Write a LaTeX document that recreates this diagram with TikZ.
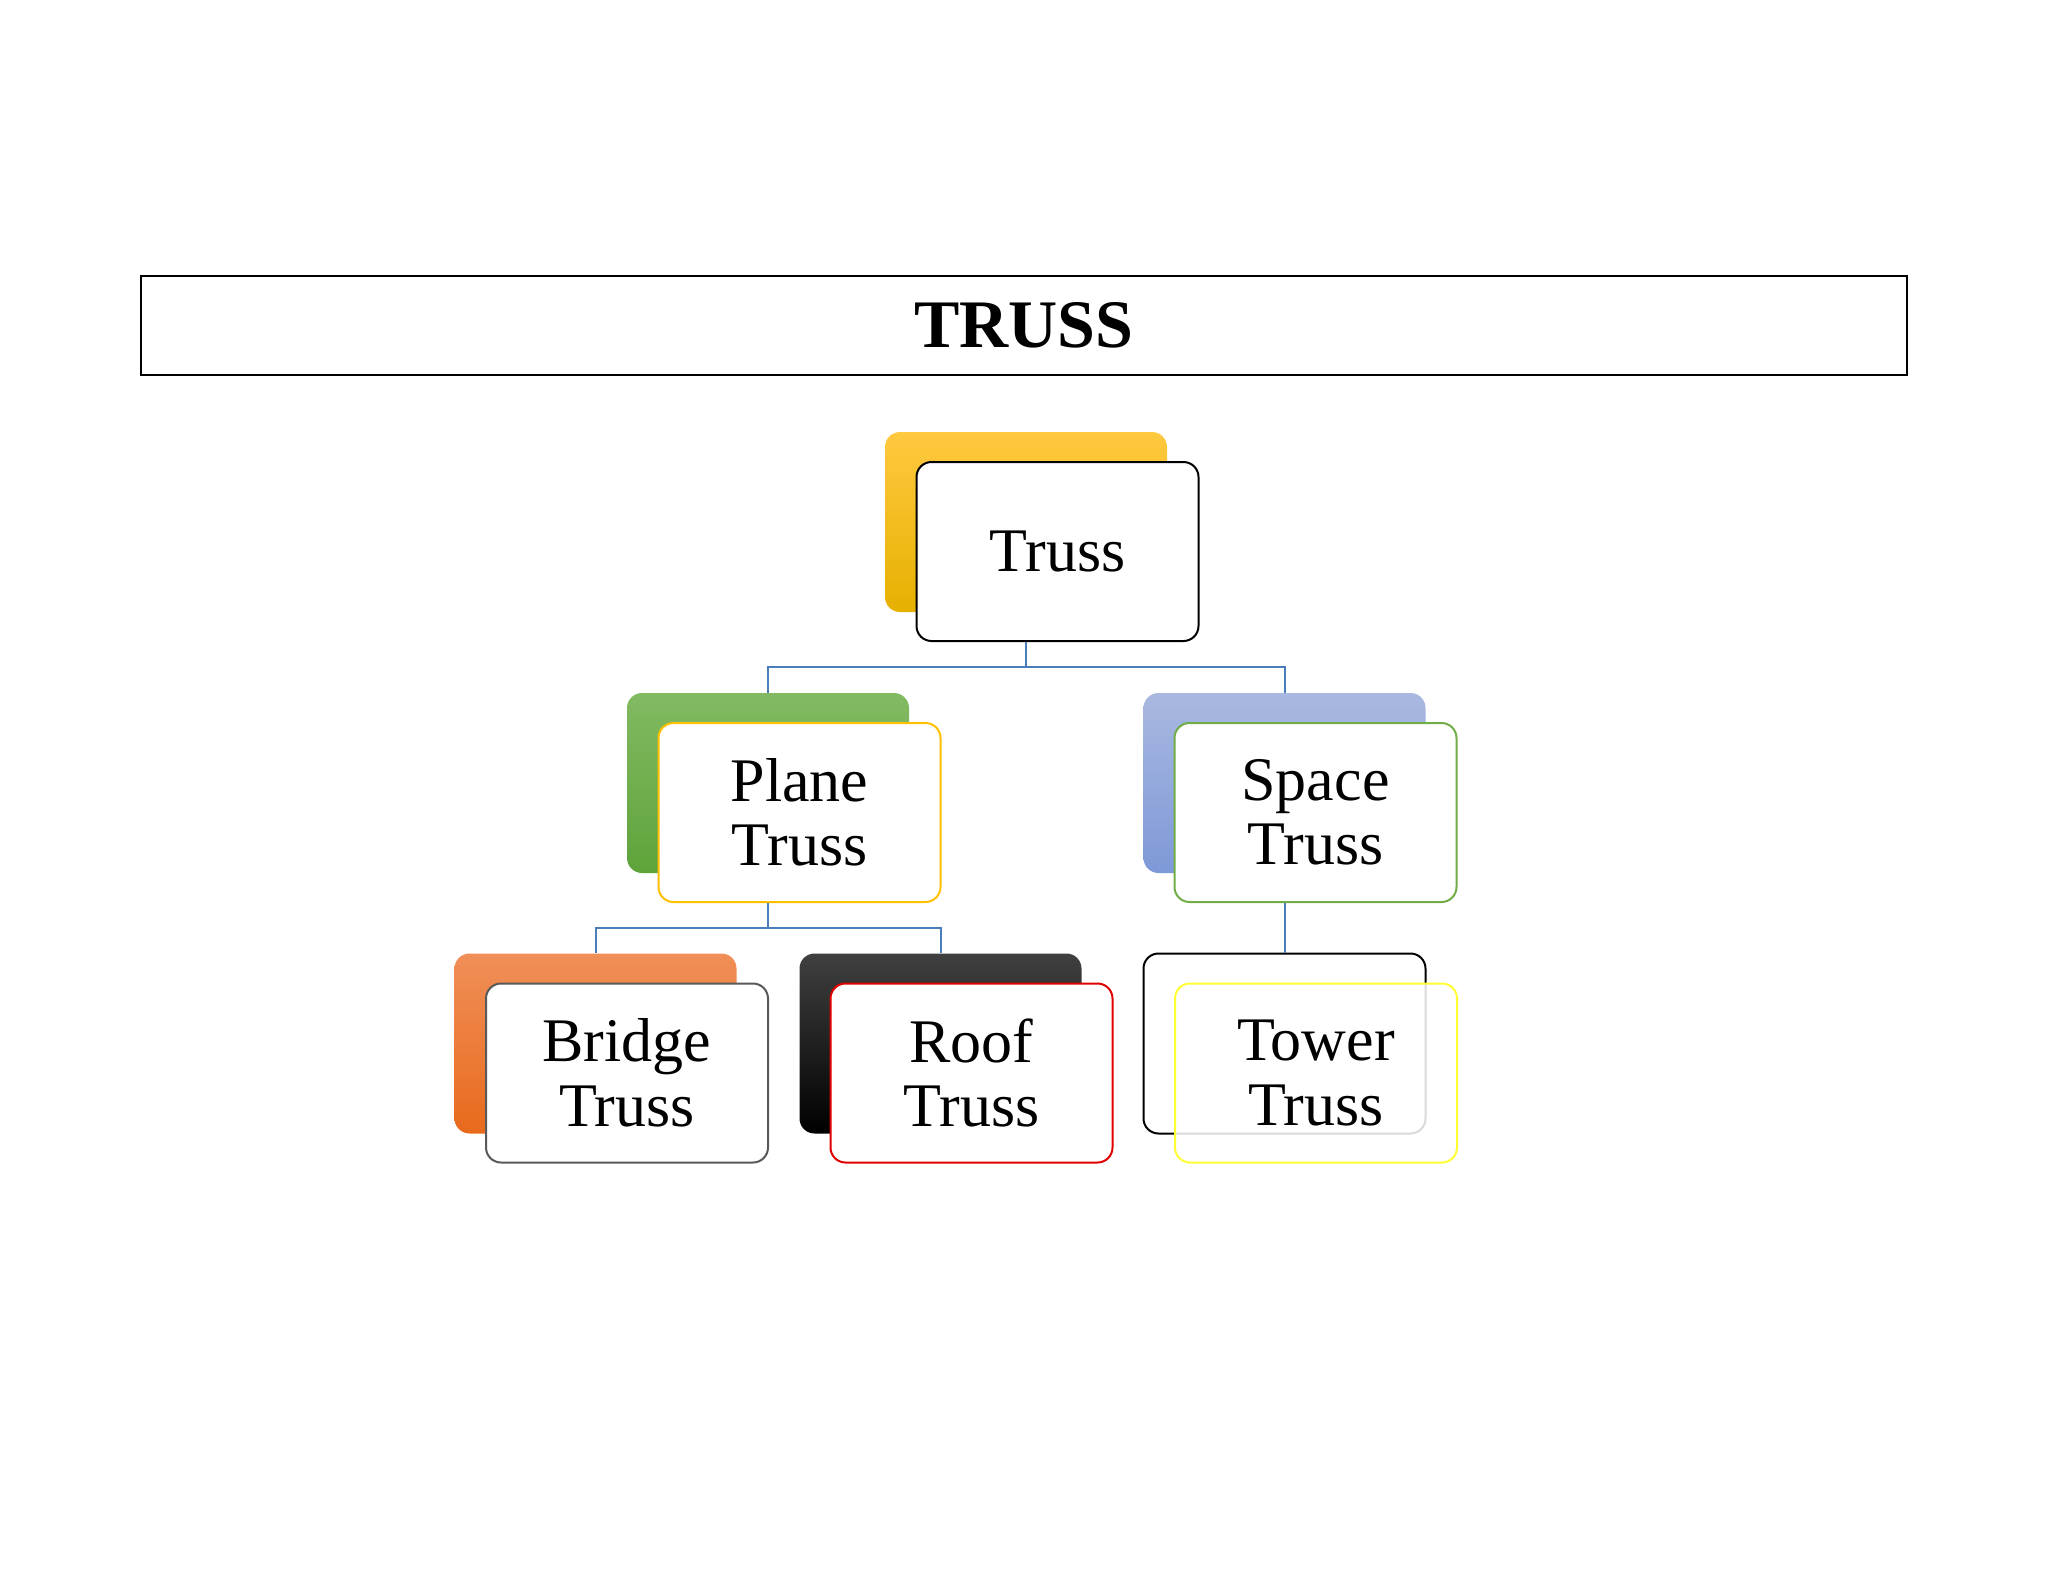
\documentclass[tikz,border=0pt]{standalone}
\usepackage{fontspec}
\setmainfont{Liberation Serif}
\definecolor{connc}{HTML}{4A7EBB}
\definecolor{ytop}{HTML}{FFC940}
\definecolor{ymid}{HTML}{FFC600}
\definecolor{ybot}{HTML}{E6B000}
\definecolor{gtop}{HTML}{82BA62}
\definecolor{gbot}{HTML}{5EA33A}
\definecolor{btop}{HTML}{A9B8E0}
\definecolor{bbot}{HTML}{7E99D8}
\definecolor{otop}{HTML}{F08F58}
\definecolor{obot}{HTML}{E86A1C}
\definecolor{ktop}{HTML}{404040}
\definecolor{kbot}{HTML}{000000}
\definecolor{goldc}{HTML}{FFC000}
\definecolor{greenc}{HTML}{70AD47}
\definecolor{grayc}{HTML}{595959}
\definecolor{redc}{HTML}{E00000}
\definecolor{yelc}{HTML}{FFFF33}
\begin{document}
\begin{tikzpicture}[x=1pt,y=-1pt,
  backbox/.style={rectangle, rounded corners=15pt, minimum width=282pt, minimum height=180pt, inner sep=0pt, draw=none},
  frontbox/.style={rectangle, rounded corners=15pt, minimum width=282pt, minimum height=179pt, inner sep=0pt, fill=white, line width=2pt, align=center, font=\fontsize{62}{64.5}\selectfont},
  conn/.style={draw=connc, line width=2pt},
  titlebox/.style={rectangle, draw=black, line width=2.5pt, minimum width=1766pt, minimum height=99pt, inner sep=0pt, font=\fontsize{68}{70}\selectfont\bfseries}
]
\useasboundingbox (0,0) rectangle (2048,1582);
\fill[white] (0,0) rectangle (2048,1582);

\node[titlebox] (title) at (1024,325.5) {TRUSS};

% level 0
\node[backbox, top color=ytop, middle color=ymid, bottom color=ybot] (b1) at (1026,522) {};
\node[frontbox, draw=black] (f1) at (1057.5,551.5) {Truss};

% level 1
\node[backbox, top color=gtop, bottom color=gbot] (b2) at (768,783) {};
\node[frontbox, draw=goldc] (f2) at (799.5,812.5) {Plane\\Truss};
\node[backbox, top color=btop, bottom color=bbot] (b3) at (1284.5,783) {};
\node[frontbox, draw=greenc] (f3) at (1315.5,812.5) {Space\\Truss};

% level 2
\node[backbox, top color=otop, bottom color=obot] (b4) at (595.5,1043.5) {};
\node[frontbox, draw=grayc] (f4) at (627,1073) {Bridge\\Truss};
\node[backbox, top color=ktop, bottom color=kbot] (b5) at (940.5,1043.5) {};
\node[frontbox, draw=redc] (f5) at (971.5,1073) {Roof\\Truss};
\node[backbox, fill=white, draw=black, line width=2pt] (b6) at (1284.5,1043.5) {};
\node[frontbox, draw=yelc, fill opacity=0.85, text opacity=1] (f6) at (1316,1073) {Tower\\Truss};

% connectors
\coordinate (j1) at (1026,667);
\coordinate (j2) at (768,928);
\draw[conn] (b1.center |- f1.south) -- (j1);
\draw[conn] (j1) -| (b2.north);
\draw[conn] (j1) -| (b3.north);
\draw[conn] (b2.center |- f2.south) -- (j2);
\draw[conn] (j2) -| (b4.north);
\draw[conn] (j2) -| (b5.north);
\draw[conn] (b3.center |- f3.south) -- (b6.north);
\end{tikzpicture}
\end{document}
